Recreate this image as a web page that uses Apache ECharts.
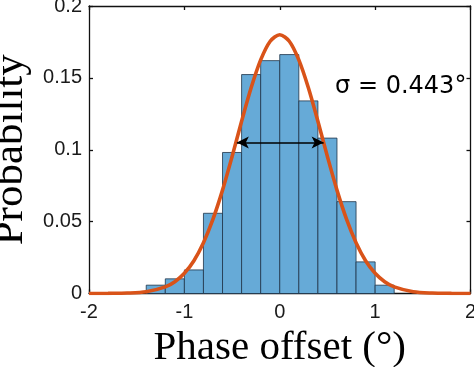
<!DOCTYPE html>
<html>
<head>
<meta charset="utf-8">
<script src="https://cdn.jsdelivr.net/npm/echarts@6/dist/echarts.min.js"></script>
<style>html,body{margin:0;padding:0;background:#fff}#c{width:474px;height:367px}</style>
</head>
<body>
<div id="c"></div>
<script>
// Histogram bins (left edges, width 0.2) and probabilities
const binLeft = [-1.4, -1.2, -1.0, -0.8, -0.6, -0.4, -0.2, 0.0, 0.2, 0.4, 0.6, 0.8, 1.0];
const binWidth = 0.2;
const binProb = [0.0058, 0.0102, 0.0164, 0.0558, 0.0981, 0.1523, 0.1620, 0.1662, 0.1340, 0.1081, 0.0639, 0.0220, 0.0058];

// Fitted Gaussian curve
const fitX = [-2.0, -1.8, -1.6, -1.4, -1.2, -1.1, -1.0, -0.9, -0.8, -0.7, -0.6, -0.5, -0.4, -0.3, -0.2, -0.1, 0.0,
              0.1, 0.2, 0.3, 0.4, 0.5, 0.6, 0.7, 0.8, 0.9, 1.0, 1.1, 1.2, 1.4, 1.6, 1.8, 2.0];
const fitY = [0.0000, 0.0001, 0.0003, 0.0012, 0.0046, 0.0082, 0.0141, 0.0228, 0.0353, 0.0517, 0.0719, 0.0952, 0.1198, 0.1431, 0.1625, 0.1755, 0.1800,
              0.1755, 0.1625, 0.1431, 0.1198, 0.0952, 0.0719, 0.0517, 0.0353, 0.0228, 0.0141, 0.0082, 0.0046, 0.0012, 0.0003, 0.0001, 0.0000];

// Width marker (±sigma) and annotation
const arrowX = [-0.45, 0.46];
const arrowY = 0.105;
const sigmaLabel = 'σ = 0.443°';
const sigmaPos = [0.575, 0.144];

const xTicks = { min: -2, max: 2, interval: 1 };
const yTicks = { min: 0, max: 0.2, interval: 0.05 };

const chart = echarts.init(document.getElementById('c'));
const axisCol = '#111';
const tickFont = { fontFamily: 'Liberation Sans', fontSize: 20, color: '#1a1a1a' };

chart.setOption({
  animation: false,
  grid: { left: 89, right: 3.5, top: 6, bottom: 73.5, containLabel: false, outerBoundsMode: 'none' },
  xAxis: [
    {
      type: 'value', min: xTicks.min, max: xTicks.max, interval: xTicks.interval, position: 'bottom',
      name: 'Phase offset (°)', nameLocation: 'middle', nameGap: 30,
      nameTextStyle: { fontFamily: 'Liberation Serif', fontSize: 41, color: '#000' },
      axisLine: { onZero: false, lineStyle: { color: axisCol, width: 1.3 } },
      axisTick: { inside: true, length: 4, lineStyle: { color: axisCol, width: 1.3 } },
      axisLabel: Object.assign({ margin: 9 }, tickFont),
      splitLine: { show: false }
    },
    {
      type: 'value', min: xTicks.min, max: xTicks.max, interval: xTicks.interval, position: 'top',
      axisLine: { onZero: false, lineStyle: { color: axisCol, width: 1.3 } },
      axisTick: { inside: true, length: 4, lineStyle: { color: axisCol, width: 1.3 } },
      axisLabel: { show: false }, splitLine: { show: false }
    }
  ],
  yAxis: [
    {
      type: 'value', min: yTicks.min, max: yTicks.max, interval: yTicks.interval, position: 'left',
      name: 'Probability', nameLocation: 'middle', nameGap: 52, nameRotate: 90,
      nameTextStyle: { fontFamily: 'Liberation Serif', fontSize: 43, color: '#000' },
      axisLine: { show: true, onZero: false, lineStyle: { color: axisCol, width: 1.3 } },
      axisTick: { show: true, inside: true, length: 4, lineStyle: { color: axisCol, width: 1.3 } },
      axisLabel: Object.assign({ margin: 7 }, tickFont),
      splitLine: { show: false }
    },
    {
      type: 'value', min: yTicks.min, max: yTicks.max, interval: yTicks.interval, position: 'right',
      axisLine: { show: true, onZero: false, lineStyle: { color: axisCol, width: 1.3 } },
      axisTick: { show: true, inside: true, length: 4, lineStyle: { color: axisCol, width: 1.3 } },
      axisLabel: { show: false }, splitLine: { show: false }
    }
  ],
  series: [
    {
      type: 'custom',
      xAxisIndex: 0, yAxisIndex: 0,
      data: binLeft.map((x, i) => [x, binProb[i]]),
      renderItem: function (params, api) {
        const x0 = api.value(0), y = api.value(1);
        const p0 = api.coord([x0, y]);
        const p1 = api.coord([x0 + binWidth, 0]);
        return {
          type: 'rect',
          shape: { x: p0[0], y: p0[1], width: p1[0] - p0[0], height: p1[1] - p0[1] },
          style: { fill: '#66aad7', stroke: '#1f3447', lineWidth: 0.8 }
        };
      },
      z: 2
    },
    {
      type: 'line',
      xAxisIndex: 0, yAxisIndex: 0,
      data: fitX.map((x, i) => [x, fitY[i]]),
      smooth: 0.3,
      showSymbol: false,
      lineStyle: { color: '#d95319', width: 3.6 },
      z: 4,
      markLine: {
        silent: true,
        symbol: ['arrow', 'arrow'],
        symbolSize: [9, 12],
        label: { show: false },
        lineStyle: { color: '#000', width: 1.7, type: 'solid' },
        data: [[{ coord: [arrowX[0], arrowY] }, { coord: [arrowX[1], arrowY] }]]
      },
      markPoint: {
        silent: true,
        symbol: 'circle',
        symbolSize: 1,
        itemStyle: { color: 'rgba(0,0,0,0)' },
        label: {
          show: true, position: 'right', distance: 0,
          formatter: sigmaLabel,
          fontFamily: 'DejaVu Sans', fontSize: 24, color: '#000'
        },
        data: [{ coord: sigmaPos }]
      }
    }
  ]
});
</script>
</body>
</html>
